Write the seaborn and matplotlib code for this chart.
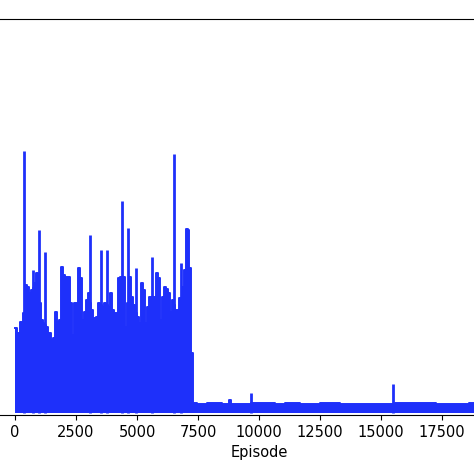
import matplotlib
matplotlib.use("Agg")
import numpy as np
import pandas as pd
import seaborn as sns
import matplotlib.pyplot as plt

# running level of the training curve
episodes_early = [0, 137, 273, 369, 451, 546, 615, 683, 751, 820, 888, 997,
                  1093, 1161, 1243, 1325, 1407, 1503, 1598, 1680, 1776, 1844,
                  1940, 2008, 2117, 2213, 2281, 2363, 2459, 2554, 2636, 2705,
                  2800, 2869, 2937, 3019, 3087, 3169, 3251, 3347, 3442, 3510,
                  3592, 3674, 3756, 3838, 3934, 4016, 4098, 4194, 4262, 4330,
                  4398, 4467, 4549, 4644, 4713, 4781, 4877, 4959, 5041, 5123,
                  5218, 5286, 5368, 5436, 5532, 5628, 5696, 5764, 5832, 5914,
                  5996, 6078, 6160, 6242, 6324, 6393, 6461, 6516, 6598, 6693,
                  6789, 6871, 6967, 7035, 7117, 7172, 7240, 7308]
values_early = [85, 80, 91, 100, 128, 126, 120, 123, 125, 130, 140, 110,
                93, 90, 88, 86, 80, 73, 75, 101, 91, 93,
                146, 138, 136, 136, 110, 78, 110, 110, 145, 135,
                93, 101, 113, 120, 110, 103, 95, 96, 110, 108,
                106, 110, 108, 106, 120, 103, 100, 100, 135, 136,
                136, 136, 86, 110, 136, 116, 108, 100, 96, 90,
                130, 123, 90, 106, 116, 116, 116, 93, 140, 135,
                93, 116, 126, 124, 120, 101, 113, 108, 103, 103,
                115, 126, 143, 184, 183, 145, 60, 10]

# narrow single-episode spikes
spike_episodes = [369, 751, 997, 1243, 3087, 3510, 3756, 4398, 4644, 4959,
                  5628, 6516, 6789, 9658, 15504]
spike_values = [262, 143, 183, 161, 178, 163, 163, 212, 185, 145,
                156, 259, 150, 20, 29]

episodes_late = [7580, 8196, 8760, 8811, 8860, 10450, 10900, 11270, 12090,
                 12910, 13730, 14550, 16600, 17100, 17420, 18240, 19000, 20000]
values_late = [9, 10, 9, 13, 9, 10, 9, 10, 9, 10, 9, 9, 10, 10, 9, 9, 10, 9]

df = pd.DataFrame({
    "Episode": episodes_early + episodes_late,
    "value": values_early + values_late,
})
spikes = pd.DataFrame({"Episode": spike_episodes, "value": spike_values})

blue = "#1e30fa"

fig = plt.figure(figsize=(4.74, 4.74), dpi=100)
ax = fig.add_axes([-0.0198, 0.1245, 1.1325, 0.8354])

sns.lineplot(data=df, x="Episode", y="value", ax=ax, color=blue,
             drawstyle="steps-mid", linewidth=1.4)
ax.fill_between(df["Episode"], df["value"], step="mid", color=blue, lw=0)
ax.vlines(spikes["Episode"], 0, spikes["value"], color=blue, lw=2)

ax.set_xlim(-1000, 21000)
ax.set_ylim(-2, 394)
ax.set_xticks(np.arange(0, 17501, 2500))
ax.tick_params(axis="x", labelsize=10.5)
ax.set_yticks([])
ax.set_ylabel("")
ax.set_xlabel("Episode", fontsize=10.5)

fig.savefig("out.png", dpi=100)
